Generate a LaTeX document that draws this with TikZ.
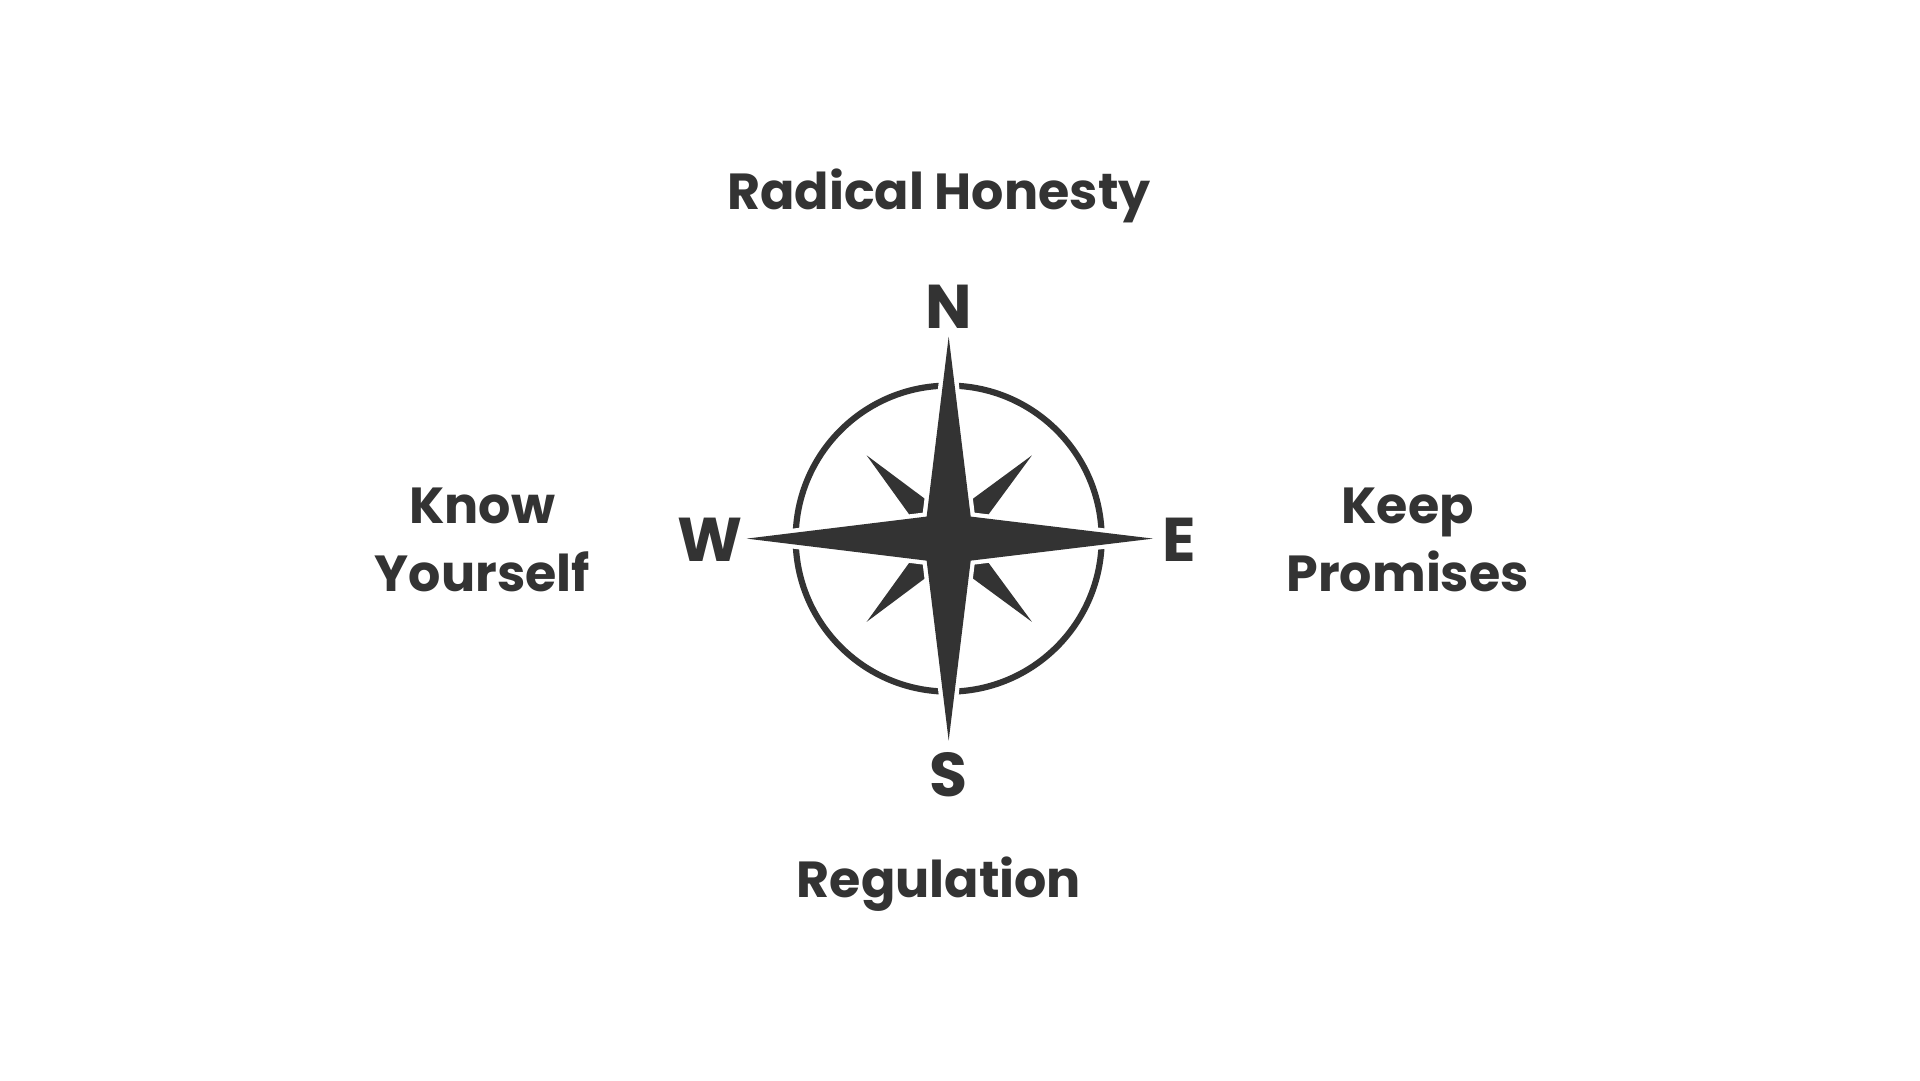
\documentclass[tikz,border=0pt]{standalone}
\usepackage{fontspec}
\setmainfont{Poppins}
\definecolor{ink}{HTML}{333333}
\begin{document}
\begin{tikzpicture}[x=0.9895pt,y=-0.9895pt,
  lbl/.style={text=ink,font=\bfseries\fontsize{41}{55}\selectfont,align=center},
  dirl/.style={text=ink,font=\bfseries\fontsize{50}{52}\selectfont}]
\useasboundingbox[fill=white] (0,0) rectangle (1568.5,882.3);
\coordinate (c) at (775,440);
\draw[ink,line width=5] (c) circle[radius=125];
\fill[ink] (708,372) -- (775,422) -- (843,372) -- (793,440) -- (843,508) -- (775,458) -- (708,508) -- (757,440) -- cycle;
\filldraw[ink,draw=white,line width=7,line join=miter] (775,275) -- (793,422) -- (942,440) -- (793,458) -- (775,605) -- (757,458) -- (610,440) -- (757,422) -- cycle;
\fill[ink] (775,275) -- (793,422) -- (942,440) -- (793,458) -- (775,605) -- (757,458) -- (610,440) -- (757,422) -- cycle;
\node[dirl] (n) at (775,251) {N};
\node[dirl] (s) at (775,633) {S};
\node[dirl] (w) at (580,441) {W};
\node[dirl] (e) at (963,441) {E};
\node[lbl] (rh) at (767,160) {Radical Honesty};
\node[lbl] (ky) at (394,441) {Know\\Yourself};
\node[lbl] (kp) at (1150,441) {Keep\\Promises};
\node[lbl] (rg) at (767,722) {Regulation};
\end{tikzpicture}
\end{document}
